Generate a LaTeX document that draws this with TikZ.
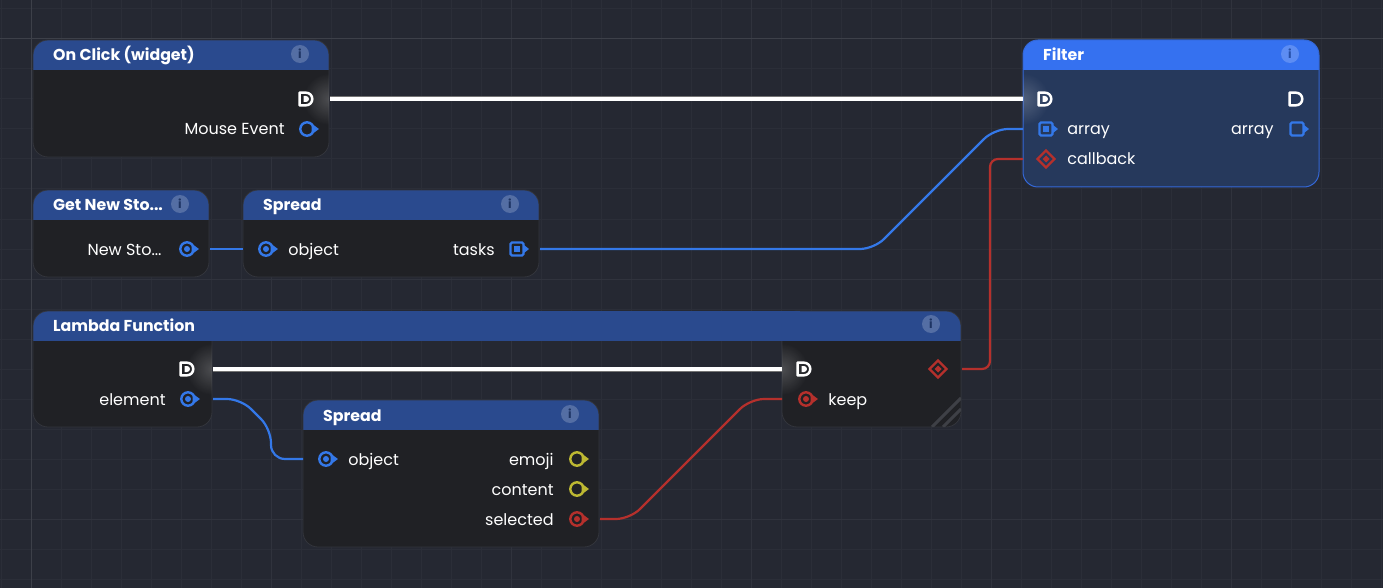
\documentclass[tikz,border=0pt]{standalone}
\usepackage{fontspec}
\setmainfont{Poppins}
\usepackage{tikz}
\usetikzlibrary{arrows,positioning,fadings}
\definecolor{canvasbg}{HTML}{252832}
\definecolor{gridminor}{HTML}{2B2E38}
\definecolor{gridmajor}{HTML}{30333D}
\definecolor{gridaxis}{HTML}{3D4049}
\definecolor{bodydark}{HTML}{202125}
\definecolor{bodyedge}{HTML}{33353C}
\definecolor{stripegray}{HTML}{3E4046}
\definecolor{headblue}{HTML}{2A4A8E}
\definecolor{filterhead}{HTML}{3571F0}
\definecolor{filterbody}{HTML}{26395C}
\definecolor{filteredge}{HTML}{3468D8}
\definecolor{wireblue}{HTML}{3478E8}
\definecolor{wirered}{HTML}{B5302C}
\definecolor{pinyellow}{HTML}{BDB832}
\tikzfading[name=glowfade, inner color=transparent!0, outer color=transparent!100]
\tikzset{
    %Define style for node bodies
    bodybox/.style={
           rectangle,
           anchor=north west,
           rounded corners=15pt,
           fill=bodydark,
           draw=bodyedge,
           line width=0.8pt,
           inner sep=0pt,
           outer sep=0pt,
           path picture={\fill[headblue,sharp corners] (path picture bounding box.north west) rectangle ([yshift=-30pt]path picture bounding box.north east);}},
    filterbox/.style={
           bodybox,
           fill=filterbody,
           draw=filteredge,
           line width=1pt,
           path picture={\fill[filterhead,sharp corners] (path picture bounding box.north west) rectangle ([yshift=-30pt]path picture bounding box.north east);}},
    lambdahead/.style={
           rectangle,
           anchor=north west,
           fill=headblue,
           inner sep=0pt,
           outer sep=0pt,
           minimum height=30pt},
    % Define style for texts
    titletext/.style={anchor=west,inner sep=0pt,text=white,text height=12pt,text depth=0pt,font=\fontsize{15.8}{18}\selectfont\bfseries},
    porttext/.style={inner sep=0pt,text=white,text height=12pt,text depth=0pt,font=\fontsize{16}{18}\selectfont},
    infoicon/.style={circle,inner sep=0pt,minimum size=18pt,fill=white,fill opacity=0.2,text opacity=1,text=headblue!70!black,font=\fontsize{12}{12}\selectfont\bfseries},
    % Define port styles
    portbox/.style={rectangle,inner sep=0pt,minimum size=26pt},
    portround/.style={portbox,path picture={
        \begin{scope}[shift={(path picture bounding box.center)}]
          \draw[#1,line width=2.4pt] (0,0) circle (6.7pt);
          \fill[#1] (4.5,-5.5) -- (12,0) -- (4.5,5.5) -- cycle;
        \end{scope}}},
    portdot/.style={portbox,path picture={
        \begin{scope}[shift={(path picture bounding box.center)}]
          \draw[#1,line width=2.4pt] (0,0) circle (6.7pt);
          \fill[#1] (4.5,-5.5) -- (12,0) -- (4.5,5.5) -- cycle;
          \fill[#1] (0,0) circle (3pt);
        \end{scope}}},
    portsquare/.style={portbox,path picture={
        \begin{scope}[shift={(path picture bounding box.center)}]
          \draw[wireblue,line width=2.4pt,rounded corners=1.5pt] (-6.5,-6.5) rectangle (6.5,6.5);
          \fill[wireblue] (7,-4) -- (12,0) -- (7,4) -- cycle;
        \end{scope}}},
    portsquarefull/.style={portbox,path picture={
        \begin{scope}[shift={(path picture bounding box.center)}]
          \draw[wireblue,line width=2.4pt,rounded corners=1.5pt] (-6.5,-6.5) rectangle (6.5,6.5);
          \fill[wireblue] (7,-4) -- (12,0) -- (7,4) -- cycle;
          \fill[wireblue] (-3,-3) rectangle (3,3);
        \end{scope}}},
    portdiamond/.style={portbox,path picture={
        \begin{scope}[shift={(path picture bounding box.center)}]
          \draw[wirered,line width=2.4pt] (-8.5,0) -- (0,-8.5) -- (8.5,0) -- (0,8.5) -- cycle;
          \fill[wirered] (-3.5,0) -- (0,-3.5) -- (3.5,0) -- (0,3.5) -- cycle;
        \end{scope}}},
    portexec/.style={portbox,path picture={
        \begin{scope}[shift={(path picture bounding box.center)}]
          \draw[white,line width=2.5pt,line join=round] (-6.5,-6.3) -- (0,-6.3) arc (90:-90:6.3pt) -- (-6.5,6.3) -- cycle;
        \end{scope}}},
    portexecfull/.style={portbox,path picture={
        \begin{scope}[shift={(path picture bounding box.center)}]
          \draw[white,line width=2.5pt,line join=round] (-6.5,-6.3) -- (0,-6.3) arc (90:-90:6.3pt) -- (-6.5,6.3) -- cycle;
          \fill[white] (-2.5,-3) -- (0,-3) arc (90:-90:3pt) -- (-2.5,3) -- cycle;
        \end{scope}}},
    % Define wire styles
    wirewhite/.style={draw=white,line width=3.4pt,preaction={draw=white!45!black,line width=5pt}},
    wirecolor/.style={draw=#1,line width=2.2pt,rounded corners=14pt},
    glowspot/.style={fill=#1,path fading=glowfade,opacity=0.2}
}

\begin{document}
\begin{tikzpicture}[x=1pt,y=-1pt]
  \useasboundingbox (0,0) rectangle (1383,588);
  \fill[canvasbg] (0,0) rectangle (1383,588);
  % grid
  \draw[gridminor,line width=1pt,step=30pt,xshift=1pt,yshift=-9pt] (-60pt,-660pt) grid (1440pt,60pt);
  \draw[gridmajor,line width=1pt,step=240pt,xshift=31pt,yshift=-39pt] (-240pt,-720pt) grid (1440pt,240pt);
  \draw[gridaxis,line width=1pt] (31,0) -- (31,588);
  \draw[gridaxis,line width=1pt] (0,39) -- (1383,39);

  % bodies
  \node[bodybox,minimum width=296pt,minimum height=117pt] (onclick) at (33,40) {};
  \node[filterbox,minimum width=296pt,minimum height=147pt] (filter) at (1023,40) {};
  \node[bodybox,minimum width=176pt,minimum height=87pt] (getnew) at (33,190) {};
  \node[bodybox,minimum width=296pt,minimum height=87pt] (spreada) at (243,190) {};
  \node[bodybox,minimum width=179pt,minimum height=116pt] (lambdal) at (33,311) {};
  \node[bodybox,minimum width=179pt,minimum height=116pt] (lambdar) at (782,311) {};
  \node[lambdahead,minimum width=610pt] (lambdam) at (190,311) {};
  \node[bodybox,minimum width=296pt,minimum height=147pt] (spreadb) at (303,400) {};

  % glows
  \begin{scope}
    \clip[rounded corners=15pt] (onclick.north west) rectangle (onclick.south east);
    \fill[glowspot=white] (329,99) circle (26pt);
  \end{scope}
  \begin{scope}
    \clip[rounded corners=15pt] (filter.north west) rectangle (filter.south east);
    \fill[glowspot=white] (1023,99) circle (26pt);
  \end{scope}
  \begin{scope}
    \clip[rounded corners=15pt] (lambdal.north west) rectangle (lambdal.south east);
    \fill[glowspot=white] (212,369) circle (26pt);
  \end{scope}
  \begin{scope}
    \clip[rounded corners=15pt] (lambdar.north west) rectangle (lambdar.south east);
    \fill[glowspot=white] (782,369) circle (26pt);
    \draw[stripegray,line width=3pt] (932,427) -- (961,398);
    \draw[stripegray,line width=3pt] (943,427) -- (961,409);
  \end{scope}

  % titles
  \node[titletext] (onclick title) at (53,55) {On Click (widget)};
  \node[titletext] (filter title) at (1043,55) {Filter};
  \node[titletext] (getnew title) at (53,205) {Get New Sto...};
  \node[titletext] (spreada title) at (263,205) {Spread};
  \node[titletext] (lambda title) at (53,325) {Lambda Function};
  \node[titletext] (spreadb title) at (323,415) {Spread};

  % info
  \node[infoicon] (onclick info) at (300,54) {i};
  \node[infoicon,text=filterhead!70!black] (filter info) at (1290,54) {i};
  \node[infoicon] (getnew info) at (180,204) {i};
  \node[infoicon] (spreada info) at (510,204) {i};
  \node[infoicon] (lambda info) at (931,324) {i};
  \node[infoicon] (spreadb info) at (570,414) {i};

  % ports
  \node[portexecfull] (onclick exec) at (306,99) {};
  \node[portround=wireblue] (onclick mouse) at (307,129) {};
  \node[porttext,left=9pt of onclick mouse] (onclick mouse text) {Mouse Event};

  \node[portexecfull] (filter exec) at (1045,99) {};
  \node[portexec] (filter done) at (1296,99) {};
  \node[portsquarefull] (filter array) at (1046,129) {};
  \node[porttext,right=8pt of filter array] (filter array text) {array};
  \node[portsquare] (filter result) at (1297,129) {};
  \node[porttext,left=10pt of filter result] (filter result text) {array};
  \node[portdiamond] (filter callback) at (1046,159) {};
  \node[porttext,right=8pt of filter callback] (filter callback text) {callback};

  \node[portdot=wireblue] (getnew out) at (187,249) {};
  \node[porttext,left=12pt of getnew out] (getnew out text) {New Sto...};
  \node[portdot=wireblue] (spreada in) at (266,249) {};
  \node[porttext,right=9pt of spreada in] (spreada in text) {object};
  \node[portsquarefull] (spreada tasks) at (517,249) {};
  \node[porttext,left=9pt of spreada tasks] (spreada tasks text) {tasks};

  \node[portexecfull] (lambda exec) at (187,369) {};
  \node[portdot=wireblue] (lambda element) at (188,399) {};
  \node[porttext,left=9pt of lambda element] (lambda element text) {element};
  \node[portexecfull] (lambda body) at (804,369) {};
  \node[portdiamond] (lambda return) at (938,369) {};
  \node[portdot=wirered] (lambda keep) at (806,399) {};
  \node[porttext,right=9pt of lambda keep] (lambda keep text) {keep};

  \node[portdot=wireblue] (spreadb in) at (326,459) {};
  \node[porttext,right=9pt of spreadb in] (spreadb in text) {object};
  \node[portround=pinyellow] (spreadb emoji) at (577,459) {};
  \node[porttext,left=10pt of spreadb emoji] (spreadb emoji text) {emoji};
  \node[portround=pinyellow] (spreadb content) at (577,489) {};
  \node[porttext,left=10pt of spreadb content] (spreadb content text) {content};
  \node[portdot=wirered] (spreadb selected) at (577,519) {};
  \node[porttext,left=10pt of spreadb selected] (spreadb selected text) {selected};

  % wires
  \draw[wirewhite] ([xshift=1pt]onclick.east |- onclick exec) -- (filter.west |- filter exec);
  \draw[wirewhite] ([xshift=1pt]lambdal.east |- lambda exec) -- (lambdar.west |- lambda body);
  \draw[wirecolor=wireblue] ([xshift=1pt]getnew.east |- getnew out) -- (spreada.west |- spreada in);
  \draw[wirecolor=wireblue] ([xshift=1pt]spreada.east |- spreada tasks) -- (874,249) -- (994,129) -- (filter.west |- filter array);
  \draw[wirecolor=wireblue] ([xshift=1pt]lambdal.east |- lambda element) -- (241,399) -- (271,429) -- (271,459) -- (spreadb.west |- spreadb in);
  \draw[wirecolor=wirered] ([xshift=1pt]spreadb.east |- spreadb selected) -- (630,519) -- (750,399) -- (lambdar.west |- lambda keep);
  \draw[wirecolor=wirered,rounded corners=8pt] ([xshift=1pt]lambdar.east |- lambda return) -- (990,369) -- (990,159) -- (filter.west |- filter callback);
\end{tikzpicture}
\end{document}
